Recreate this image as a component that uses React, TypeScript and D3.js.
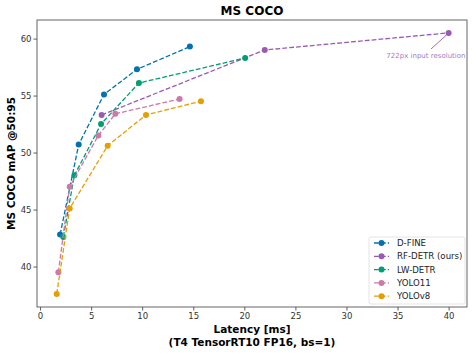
import { useEffect, useRef } from "react";
import * as d3 from "d3";

// latency (ms) / mAP pairs
const dfineLatency = [1.96, 3.78, 6.26, 9.49, 14.67];
const dfineMap = [42.8, 50.7, 55.1, 57.3, 59.3];

const rfdetrLatency = [6.03, 22.0, 40.0];
const rfdetrMap = [53.3, 59.0, 60.5];

const lwdetrLatency = [2.28, 3.36, 5.97, 9.68, 20.08];
const lwdetrMap = [42.6, 48.0, 52.5, 56.1, 58.3];

const yolo11Latency = [1.79, 2.9, 5.7, 7.37, 13.66];
const yolo11Map = [39.5, 47.0, 51.5, 53.4, 54.7];

const yolov8Latency = [1.63, 2.9, 6.62, 10.37, 15.75];
const yolov8Map = [37.6, 45.1, 50.6, 53.3, 54.5];

const seriesNames = ["D-FINE", "RF-DETR (ours)", "LW-DETR", "YOLO11", "YOLOv8"];
const seriesColors = ["#0072b2", "#9b59b6", "#009e73", "#cc79a7", "#e69f00"];

const xTicks = [0, 5, 10, 15, 20, 25, 30, 35, 40];
const yTicks = [40, 45, 50, 55, 60];

const W = 474;
const H = 354;
const FONT = "DejaVu Sans, sans-serif";

const App = () => {
  const svgRef = useRef<SVGSVGElement>(null);

  useEffect(() => {
    const svg = d3.select(svgRef.current);
    svg.selectAll("*").remove();

    const left = 37, right = 467, top = 20, bottom = 307;
    const x = d3.scaleLinear().domain([-0.3, 41.8]).range([left, right]);
    const y = d3.scaleLinear().domain([36.45, 61.63]).range([bottom, top]);

    const series = [
      [dfineLatency, dfineMap],
      [rfdetrLatency, rfdetrMap],
      [lwdetrLatency, lwdetrMap],
      [yolo11Latency, yolo11Map],
      [yolov8Latency, yolov8Map],
    ].map(([lat, map], i) => ({
      name: seriesNames[i],
      color: seriesColors[i],
      pts: lat.map((l, j) => [l, map[j]] as [number, number]),
    }));

    // title
    svg
      .append("text")
      .attr("x", (left + right) / 2)
      .attr("y", 15)
      .attr("text-anchor", "middle")
      .attr("font-family", FONT)
      .attr("font-weight", "bold")
      .attr("font-size", 12)
      .text("MS COCO");

    // axes
    const xAxis = svg
      .append("g")
      .attr("transform", `translate(0,${bottom})`)
      .call(d3.axisBottom(x).tickValues(xTicks).tickSize(3.5).tickPadding(2));
    const yAxis = svg
      .append("g")
      .attr("transform", `translate(${left},0)`)
      .call(d3.axisLeft(y).tickValues(yTicks).tickSize(3.5).tickPadding(2));
    [xAxis, yAxis].forEach((g) => {
      g.select(".domain").remove();
      g.selectAll("line").attr("stroke", "#333").attr("stroke-width", 0.8);
      g.selectAll("text")
        .attr("font-family", FONT)
        .attr("font-size", 8.5)
        .attr("fill", "#333");
    });

    // frame
    svg
      .append("rect")
      .attr("x", left)
      .attr("y", top)
      .attr("width", right - left)
      .attr("height", bottom - top)
      .attr("fill", "none")
      .attr("stroke", "#555")
      .attr("stroke-width", 0.9);

    // axis labels
    svg
      .append("text")
      .attr("x", (left + right) / 2)
      .attr("y", 333)
      .attr("text-anchor", "middle")
      .attr("font-family", FONT)
      .attr("font-weight", "bold")
      .attr("font-size", 10.5)
      .text("Latency [ms]");
    svg
      .append("text")
      .attr("x", (left + right) / 2)
      .attr("y", 346)
      .attr("text-anchor", "middle")
      .attr("font-family", FONT)
      .attr("font-weight", "bold")
      .attr("font-size", 10.5)
      .text("(T4 TensorRT10 FP16, bs=1)");
    svg
      .append("text")
      .attr("transform", `translate(15,${(top + bottom) / 2}) rotate(-90)`)
      .attr("text-anchor", "middle")
      .attr("font-family", FONT)
      .attr("font-weight", "bold")
      .attr("font-size", 10.5)
      .text("MS COCO mAP @50:95");

    const line = d3
      .line<[number, number]>()
      .x((d) => x(d[0]))
      .y((d) => y(d[1]));

    series.forEach((s) => {
      svg
        .append("path")
        .attr("d", line(s.pts))
        .attr("fill", "none")
        .attr("stroke", s.color)
        .attr("stroke-width", 1.3)
        .attr("stroke-dasharray", "4.8,2.1");
      svg
        .append("g")
        .selectAll("circle")
        .data(s.pts)
        .enter()
        .append("circle")
        .attr("cx", (d) => x(d[0]))
        .attr("cy", (d) => y(d[1]))
        .attr("r", 3)
        .attr("fill", s.color);
    });

    // annotation on the largest RF-DETR point
    const last = series[1].pts[series[1].pts.length - 1];
    svg
      .append("line")
      .attr("x1", 431)
      .attr("y1", 49)
      .attr("x2", x(last[0]) - 1.5)
      .attr("y2", y(last[1]) + 1.5)
      .attr("stroke", "#9b59b6")
      .attr("stroke-width", 0.9);
    svg
      .append("text")
      .attr("x", 465.5)
      .attr("y", 58)
      .attr("text-anchor", "end")
      .attr("font-family", FONT)
      .attr("font-size", 7)
      .attr("fill", "#a67cc0")
      .text("722px input resolution");

    // legend
    const lg = svg.append("g").attr("transform", "translate(369,237)");
    lg.append("rect")
      .attr("width", 96)
      .attr("height", 67)
      .attr("rx", 2)
      .attr("fill", "white")
      .attr("fill-opacity", 0.8)
      .attr("stroke", "#ddd")
      .attr("stroke-width", 0.8);
    series.forEach((s, i) => {
      const yy = 6 + i * 13.3;
      lg.append("line")
        .attr("x1", 5)
        .attr("x2", 20)
        .attr("y1", yy)
        .attr("y2", yy)
        .attr("stroke", s.color)
        .attr("stroke-width", 1.3)
        .attr("stroke-dasharray", "4.8,2.1");
      lg.append("circle").attr("cx", 12.5).attr("cy", yy).attr("r", 3).attr("fill", s.color);
      lg.append("text")
        .attr("x", 28)
        .attr("y", yy + 3)
        .attr("font-family", FONT)
        .attr("font-size", 8.6)
        .attr("fill", "#222")
        .text(s.name);
    });
  }, []);

  return (
    <svg
      ref={svgRef}
      width={W}
      height={H}
      style={{ position: "absolute", left: 0, top: 0, background: "white" }}
    />
  );
};

export default App;
